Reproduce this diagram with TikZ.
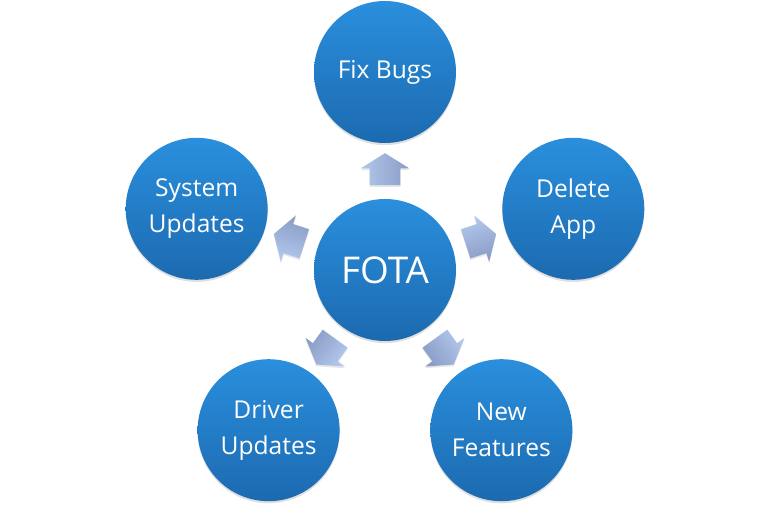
\documentclass[tikz,border=0pt]{standalone}
\usepackage{fontspec}
\setmainfont{Open Sans}
\usetikzlibrary{shapes,arrows,positioning,calc,shadows}

\definecolor{ballTop}{HTML}{2A8FDD}
\definecolor{ballBot}{HTML}{1C6AB0}
\definecolor{arrTop}{HTML}{B2C8EC}
\definecolor{arrBot}{HTML}{8A9CC6}

\tikzset{
  ball/.style={circle, minimum size=2.84cm, inner sep=0pt, align=center,
    top color=ballTop, bottom color=ballBot, text=white,
    font=\fontsize{14}{20.5}\selectfont,
    drop shadow={shadow xshift=0pt, shadow yshift=-1.2pt, opacity=0.25}},
  hub/.style={ball, font=\fontsize{21}{25}\selectfont},
  push/.style={single arrow, minimum height=0.64cm,
    inner xsep=0pt, inner ysep=0.3cm, font=\fontsize{1}{1}\selectfont,
    single arrow head extend=0.18cm, single arrow tip angle=116,
    top color=arrTop, bottom color=arrBot,
    drop shadow={shadow xshift=0pt, shadow yshift=-1pt, opacity=0.2}}
}

\begin{document}
\begin{tikzpicture}[x=0.02cm,y=0.02cm]
\useasboundingbox (-385,-241) rectangle (383,270);

% Centre and the five topics round it
\node[hub] (fota) at (0,0) {FOTA};
\node[ball] (bugs) at (90:198) {Fix Bugs};
\node[ball] (del) at (18:198) {Delete\\App};
\node[ball] (sys) at (162:198) {System\\Updates};
\node[ball] (drv) at (234:198) {Driver\\Updates};
\node[ball] (feat) at (306:198) {New\\Features};

% Block arrows from the centre outwards
\foreach \t/\a in {bugs/90,del/18,sys/162,drv/234,feat/306} {
  \node[push, rotate=\a, shading angle=\a] (arr-\t) at ($(fota)!0.485!(\t)$) {};
}

\end{tikzpicture}
\end{document}
